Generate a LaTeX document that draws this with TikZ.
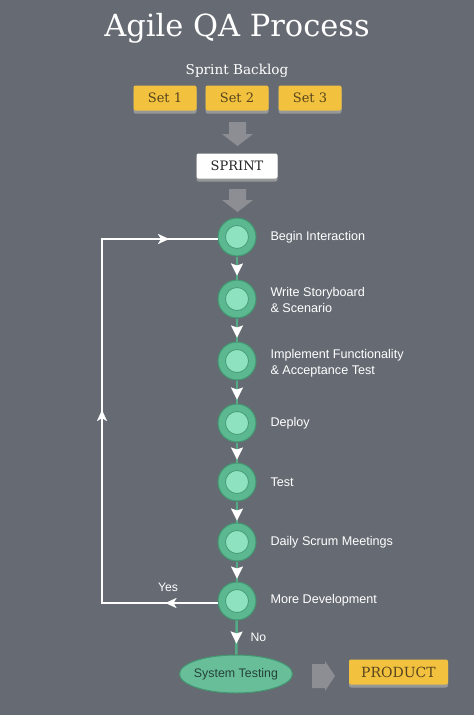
\documentclass[tikz,border=0pt]{standalone}
\usepackage{fontspec}
\setmainfont{DejaVu Serif}
\setsansfont{Liberation Sans}
\usetikzlibrary{arrows.meta,decorations.markings,shapes.geometric,shadows}
\definecolor{bg}{RGB}{102,107,115}
\definecolor{yel}{RGB}{242,194,62}
\definecolor{yeltext}{RGB}{88,68,30}
\definecolor{shadowgray}{RGB}{150,151,153}
\definecolor{arrowgray}{RGB}{140,142,147}
\definecolor{gout}{RGB}{92,184,145}
\definecolor{gborder}{RGB}{66,150,112}
\definecolor{ginner}{RGB}{142,226,192}
\definecolor{gline}{RGB}{84,172,134}
\definecolor{elltext}{RGB}{36,66,56}
\begin{document}
\begin{tikzpicture}[x=1pt,y=-1pt,
  ybox/.style={fill=yel, rounded corners=2pt, text=yeltext, inner sep=0pt,
    font=\fontsize{13}{15}\selectfont,
    drop shadow={shadow xshift=0pt, shadow yshift=-3pt, fill=shadowgray, opacity=1}},
  wbox/.style={fill=white, rounded corners=2pt, text=black!85, inner sep=0pt,
    font=\fontsize{13}{15}\selectfont,
    drop shadow={shadow xshift=0pt, shadow yshift=-3pt, fill=shadowgray, opacity=1}},
  stepcirc/.style={circle, minimum size=38pt, inner sep=0pt, fill=gout, draw=gborder, line width=1pt,
    path picture={\filldraw[fill=ginner, draw=gborder!80!gout, line width=0.8pt] (path picture bounding box.center) circle (11.5pt);}},
  steplabel/.style={anchor=west, text=white, align=left, font=\sffamily\fontsize{12.6}{16}\selectfont},
  flow/.style={draw=gline, line width=2.5pt, postaction={decorate},
    decoration={markings, mark=at position #1 with {\arrow{Stealth[length=12pt,width=12pt,inset=2pt,color=white,fill=white,line width=0.1pt]}}}},
  flow/.default=19pt,
  loopline/.style={draw=white, line width=2.2pt, postaction={decorate},
    decoration={markings, mark=at position #1 with {\arrow{Stealth[length=11pt,width=10pt,inset=3pt,color=white,fill=white,line width=0.1pt]}}}}
]
\fill[bg] (0,0) rectangle (474,715);
\useasboundingbox (0,0) rectangle (474,715);

\node[text=white, font=\fontsize{30.5}{36}\selectfont] (title) at (237,28) {Agile QA Process};
\node[text=white, font=\fontsize{13.6}{16}\selectfont] (backlog) at (237,71) {Sprint Backlog};

\node[ybox, minimum width=63pt, minimum height=25pt] (set1) at (165,98) {Set 1};
\node[ybox, minimum width=63pt, minimum height=25pt] (set2) at (237,98) {Set 2};
\node[ybox, minimum width=63pt, minimum height=25pt] (set3) at (310,98) {Set 3};

% block arrow down 1
\fill[arrowgray] (229,122) -- (246,122) -- (246,134) -- (253,134) -- (237.5,146) -- (222,134) -- (229,134) -- cycle;

\node[wbox, minimum width=81pt, minimum height=25pt] (sprint) at (237,166) {SPRINT};

% block arrow down 2
\fill[arrowgray] (229,189) -- (246,189) -- (246,200) -- (253,200) -- (237.5,212) -- (222,200) -- (229,200) -- cycle;

\node[stepcirc] (c1) at (237,237) {};
\node[stepcirc] (c2) at (237,299) {};
\node[stepcirc] (c3) at (237,361) {};
\node[stepcirc] (c4) at (237,423) {};
\node[stepcirc] (c5) at (237,482) {};
\node[stepcirc] (c6) at (237,542) {};
\node[stepcirc] (c7) at (237,601) {};

\node[steplabel] (l1) at (267,237) {Begin Interaction};
\node[steplabel] (l2) at (267,300) {Write Storyboard\\\& Scenario};
\node[steplabel] (l3) at (267,363) {Implement Functionality\\\& Acceptance Test};
\node[steplabel] (l4) at (267,423) {Deploy};
\node[steplabel] (l5) at (267,482) {Test};
\node[steplabel] (l6) at (267,542) {Daily Scrum Meetings};
\node[steplabel] (l7) at (267,600) {More Development};

\draw[flow] (c1) -- (c2);
\draw[flow] (c2) -- (c3);
\draw[flow] (c3) -- (c4);
\draw[flow=17pt] (c4) -- (c5);
\draw[flow] (c5) -- (c6);
\draw[flow=17pt] (c6) -- (c7);

% loop back
\coordinate (lb) at (102,603);
\coordinate (lt) at (102,239);
\draw[loopline=52pt] (c7.west |- lb) -- (lb);
\draw[loopline=0.53, line cap=rect] (lb) -- (lt);
\draw[loopline=67pt] (lt) -- (c1.west |- lt);

\node[text=white, font=\sffamily\fontsize{12.2}{14}\selectfont] (yes) at (168,587) {Yes};

\node[ellipse, minimum width=113pt, minimum height=38pt, inner xsep=-8pt, inner ysep=0pt, fill=gout!92!white, draw=gborder, line width=1pt,
  text=elltext, font=\sffamily\fontsize{12.4}{14}\selectfont] (st) at (236,674) {System Testing};
\draw[flow=23pt] (c7) -- (st);
\node[anchor=west, text=white, font=\sffamily\fontsize{12.2}{14}\selectfont] (no) at (247,637) {No};

% block arrow right
\fill[arrowgray] (312,664) -- (325,664) -- (325,661) -- (335,676) -- (325,691) -- (325,688) -- (312,688) -- cycle;

\node[ybox, minimum width=99pt, minimum height=25pt, font=\fontsize{14}{16}\selectfont] (product) at (398.5,672) {PRODUCT};
\end{tikzpicture}
\end{document}
